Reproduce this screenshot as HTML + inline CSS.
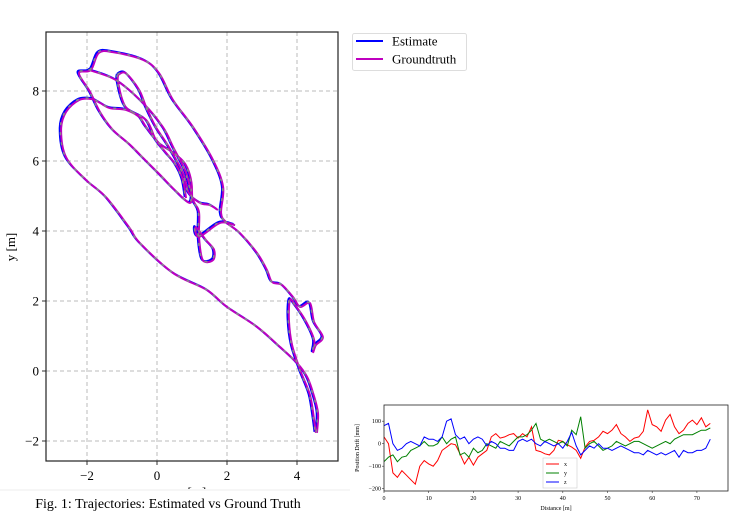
<!DOCTYPE html>
<html><head><meta charset="utf-8"><style>
html,body{margin:0;padding:0;background:#fff;}
svg{display:block;font-family:"Liberation Serif",serif;}
</style></head><body>
<svg id="fig" width="747" height="517" viewBox="0 0 747 517" xmlns="http://www.w3.org/2000/svg">
<g id="main"></g>
<g id="inset"></g>
<line x1="0" y1="490" x2="350" y2="490" stroke="#eee" stroke-width="1"/>
<text x="168" y="508" font-size="14" text-anchor="middle">Fig. 1: Trajectories: Estimated vs Ground Truth</text>
<g>
<rect x="352.5" y="33.5" width="114" height="37" rx="2" fill="#fff" stroke="#ddd"/>
<line x1="356" y1="41" x2="383" y2="41" stroke="#0000ff" stroke-width="2"/>
<text x="392" y="45.5" font-size="13">Estimate</text>
<line x1="356" y1="59" x2="383" y2="59" stroke="#bf00bf" stroke-width="2"/>
<text x="392" y="63.5" font-size="13">Groundtruth</text>
</g>
</svg>
<script>
// ---- Trajectory data (meters); null = break between segments ----
const gtX = [4.57,4.60,4.46,4.29,4.00,3.51,2.86,2.00,1.43,0.46,-0.49,-0.80,-1.46,-2.03,-2.60,-2.74,-2.60,-2.23,-1.86,-1.63,-1.34,-0.89,-0.51,-0.31,0.06,0.43,0.77,0.94,1.00,0.94,
 0.51,0.09,-0.34,-0.77,-1.26,-1.63,-1.91,-2.23,-1.89,-1.66,-1.26,-0.40,0.06,0.46,1.03,1.60,1.89,1.83,2.00,2.37,2.86,3.14,3.29,3.57,3.89,4.09,4.37,4.49,4.74,4.54,4.46,4.49,4.23,3.94,3.80,3.77,3.86,4.09,4.37,4.49,4.54,
 null,-1.94,-1.17,-0.40,0.17,0.46,0.83,1.03,1.20,1.20,1.31,1.60,1.63,1.40,1.11,1.20,1.80,2.23,
 null,-1.11,-0.89,-0.51,-0.31,-0.03,0.34,0.74,0.91,1.23,1.51,1.74,
 null,-1.11,-1.11,-0.89,-0.31,-0.03,0.26,0.54,0.74,0.83];
const gtY = [-1.77,-1.20,-0.63,-0.17,0.23,0.69,1.26,1.83,2.31,2.80,3.66,4.11,4.97,5.46,6.11,6.89,7.40,7.74,7.77,7.66,7.51,7.46,7.26,6.97,6.51,6.26,5.97,5.60,5.17,4.80,
 5.17,5.60,6.03,6.46,6.89,7.40,7.97,8.51,8.60,9.09,9.11,8.89,8.51,7.74,6.97,6.03,5.26,4.51,4.23,3.94,3.37,2.89,2.54,2.46,2.11,1.83,1.94,1.40,0.97,0.74,0.54,0.89,1.46,1.89,2.03,1.46,0.74,0.03,-0.69,-1.40,-1.77,
 null,8.60,8.31,7.66,6.97,6.40,5.66,4.89,4.54,3.83,3.17,3.17,3.46,3.74,4.11,3.83,4.23,4.17,
 null,8.46,8.51,8.03,7.54,6.97,6.40,5.66,5.09,4.80,4.74,4.60,
 null,8.46,8.23,7.54,7.17,6.60,6.23,5.89,5.46,4.94];
const estShift = [-0.04, 0.03];
const xTicks = [-2,0,2,4];
const yTicks = [-2,0,2,4,6,8];

// ---- Drift data (mm) vs distance (m) ----
const dist = [];
for (let i = 0; i <= 73; i++) dist.push(i);
const driftX = [30,0,-130,-150,-120,-140,-160,-180,-100,-75,-90,-100,-75,-30,-15,0,-5,-45,-90,-60,-95,-60,-45,-30,30,45,25,30,40,45,25,45,30,75,-30,-35,-45,-50,-30,15,10,-5,-15,-30,-65,-15,10,15,30,55,45,60,85,45,30,10,25,30,55,150,85,75,55,105,130,75,45,60,90,105,85,115,75,90];
const driftY = [-80,-60,-50,-80,-60,-55,-30,-20,-10,10,-10,-10,0,30,0,20,30,-50,-40,-60,-20,-40,-30,0,-10,-20,10,0,-10,10,30,30,40,60,90,20,10,20,10,0,10,-10,60,40,120,-20,0,10,-10,-30,-20,-10,10,0,-10,0,10,10,0,-10,-20,-10,0,10,0,20,30,40,40,40,50,60,60,70];
const driftZ = [80,90,0,-30,-20,0,10,0,-10,30,20,20,10,30,100,110,40,20,30,0,20,30,20,-10,10,0,-20,-20,-30,-30,10,20,10,20,0,-10,10,0,-10,0,-20,10,50,-10,-50,-30,-10,-20,0,-20,-20,-30,-20,-10,-20,-30,-40,-40,-50,-30,-40,-50,-40,-50,-40,-30,-60,-30,-40,-40,-30,-30,-20,20];
const driftTicksX = [0,10,20,30,40,50,60,70];
const driftTicksY = [-200,-100,0,100];

const NS = "http://www.w3.org/2000/svg";
function mk(tag, attrs, parent) {
  const e = document.createElementNS(NS, tag);
  for (const k in attrs) e.setAttribute(k, attrs[k]);
  parent.appendChild(e); return e;
}
const L=46,R=338,T=32,B=461;
const sx = v => 157 + v*35;
const sy = v => 371 - v*35;
const main = document.getElementById('main');
xTicks.forEach(t => {
  const g = mk('line',{x1:sx(t),x2:sx(t),y1:T,y2:B,stroke:'#bbb','stroke-dasharray':'4,3','stroke-width':1},main);
  
  
  const tk = mk('line',{x1:sx(t),x2:sx(t),y1:B,y2:B+4,stroke:'#333'},main);
  
  
  const tx = mk('text',{x:sx(t),y:480,'font-size':13,'text-anchor':'middle'},main);
  tx.textContent = (t<0?'\u2212':'')+Math.abs(t);
  
  
});
yTicks.forEach(t => {
  const g = mk('line',{x1:L,x2:R,y1:sy(t),y2:sy(t),stroke:'#bbb','stroke-dasharray':'4,3','stroke-width':1},main);
  
  
  const tk = mk('line',{x1:L-4,x2:L,y1:sy(t),y2:sy(t),stroke:'#333'},main);
  
  
  const tx = mk('text',{x:39,y:sy(t)+4.5,'font-size':13,'text-anchor':'end'},main);
  tx.textContent = (t<0?'\u2212':'')+Math.abs(t);
  
  
});
function pathFrom(xs, ys, dx, dy, fx, fy) {
  let d='', pen=false;
  for (let i=0;i<xs.length;i++){
    if (xs[i]===null){pen=false;continue;}
    d += (pen?'L':'M') + fx(xs[i]+dx).toFixed(1)+','+fy(ys[i]+dy).toFixed(1);
    pen=true;
  }
  return d;
}
function smoothFrom(xs, ys, dx, dy, fx, fy) {
  // Catmull-Rom per segment
  let segs=[], cur=[];
  for (let i=0;i<xs.length;i++){
    if (xs[i]===null){ if(cur.length) segs.push(cur); cur=[]; continue; }
    cur.push([fx(xs[i]+dx), fy(ys[i]+dy)]);
  }
  if(cur.length) segs.push(cur);
  let d='';
  segs.forEach(p=>{
    d += 'M'+p[0][0].toFixed(1)+','+p[0][1].toFixed(1);
    for(let i=0;i<p.length-1;i++){
      const p0=p[Math.max(0,i-1)], p1=p[i], p2=p[i+1], p3=p[Math.min(p.length-1,i+2)];
      const c1=[p1[0]+(p2[0]-p0[0])/6, p1[1]+(p2[1]-p0[1])/6];
      const c2=[p2[0]-(p3[0]-p1[0])/6, p2[1]-(p3[1]-p1[1])/6];
      d += 'C'+c1[0].toFixed(1)+','+c1[1].toFixed(1)+' '+c2[0].toFixed(1)+','+c2[1].toFixed(1)+' '+p2[0].toFixed(1)+','+p2[1].toFixed(1);
    }
  });
  return d;
}
const clip = mk('clipPath',{id:'mc'},main);
mk('rect',{x:L,y:T,width:R-L,height:B-T},clip);
const est = mk('path',{d:smoothFrom(gtX,gtY,estShift[0],estShift[1],sx,sy),fill:'none',stroke:'#0000ff','stroke-width':2,'stroke-linejoin':'round','clip-path':'url(#mc)'},main);


const gt = mk('path',{d:smoothFrom(gtX,gtY,0,0,sx,sy),fill:'none',stroke:'#bf00bf','stroke-width':2,'stroke-linejoin':'round','clip-path':'url(#mc)'},main);


const err = mk('path',{d:smoothFrom(gtX,gtY,estShift[0]/2,estShift[1]/2,sx,sy),fill:'none',stroke:'#888','stroke-width':1.6,'stroke-dasharray':'3,7','clip-path':'url(#mc)'},main);


const box = mk('rect',{x:L,y:T,width:R-L,height:B-T,fill:'none',stroke:'#222','stroke-width':1.2},main);


const yl = mk('text',{x:0,y:0,'font-size':13,'text-anchor':'middle',transform:'translate(15,247) rotate(-90)'},main);
yl.textContent='y [m]';


const xl = mk('text',{x:192,y:496,'font-size':13,'text-anchor':'middle'},main);
xl.textContent='x [m]';


mk('rect',{x:0,y:489,width:350,height:28,fill:'#fff'},main);

const iL=384,iR=728,iT=405,iB=491;
const ix = v => 384 + v*4.47;
const iy = v => 443.7 - v*0.225;
const inset = document.getElementById('inset');
mk('rect',{x:iL,y:iT,width:iR-iL,height:iB-iT,fill:'#fff'},inset);
const ic = mk('clipPath',{id:'ic'},inset);
mk('rect',{x:iL,y:iT,width:iR-iL,height:iB-iT},ic);
const series=[[driftX,'#ff0000','drift-x-line'],[driftY,'#008000','drift-y-line'],[driftZ,'#0000ff','drift-z-line']];
series.forEach(s=>{
  const p = mk('path',{d:pathFrom(dist,s[0],0,0,ix,iy),fill:'none',stroke:s[1],'stroke-width':1,'clip-path':'url(#ic)'},inset);
  
  
});
mk('rect',{x:iL,y:iT,width:iR-iL,height:iB-iT,fill:'none',stroke:'#222','stroke-width':0.8},inset);
driftTicksX.forEach(t=>{
  mk('line',{x1:ix(t),x2:ix(t),y1:iB,y2:iB+2,stroke:'#333','stroke-width':0.6},inset);
  const tx = mk('text',{x:ix(t),y:iB+9,'font-size':6,'text-anchor':'middle'},inset);
  tx.textContent=t;
  
  
});
driftTicksY.forEach(t=>{
  mk('line',{x1:iL-2,x2:iL,y1:iy(t),y2:iy(t),stroke:'#333','stroke-width':0.6},inset);
  const tx = mk('text',{x:iL-3,y:iy(t)+2,'font-size':6,'text-anchor':'end'},inset);
  tx.textContent=(t<0?'\u2212':'')+Math.abs(t);
  
  
});
const dxl = mk('text',{x:556,y:510,'font-size':6,'text-anchor':'middle'},inset);
dxl.textContent='Distance [m]';


const dyl = mk('text',{x:0,y:0,'font-size':6,'text-anchor':'middle',transform:'translate(359,448) rotate(-90)'},inset);
dyl.textContent='Position Drift [mm]';


mk('rect',{x:543,y:458,width:34,height:30,fill:'#fff',stroke:'#ccc','stroke-width':0.6},inset);
series.forEach((s,i)=>{
  const yy = 464+i*9;
  mk('line',{x1:546,x2:559,y1:yy,y2:yy,stroke:s[1],'stroke-width':1},inset);
  const tx = mk('text',{x:564,y:yy+2,'font-size':6},inset);
  tx.textContent=['x','y','z'][i];
  
  
});
</script>
</body></html>
